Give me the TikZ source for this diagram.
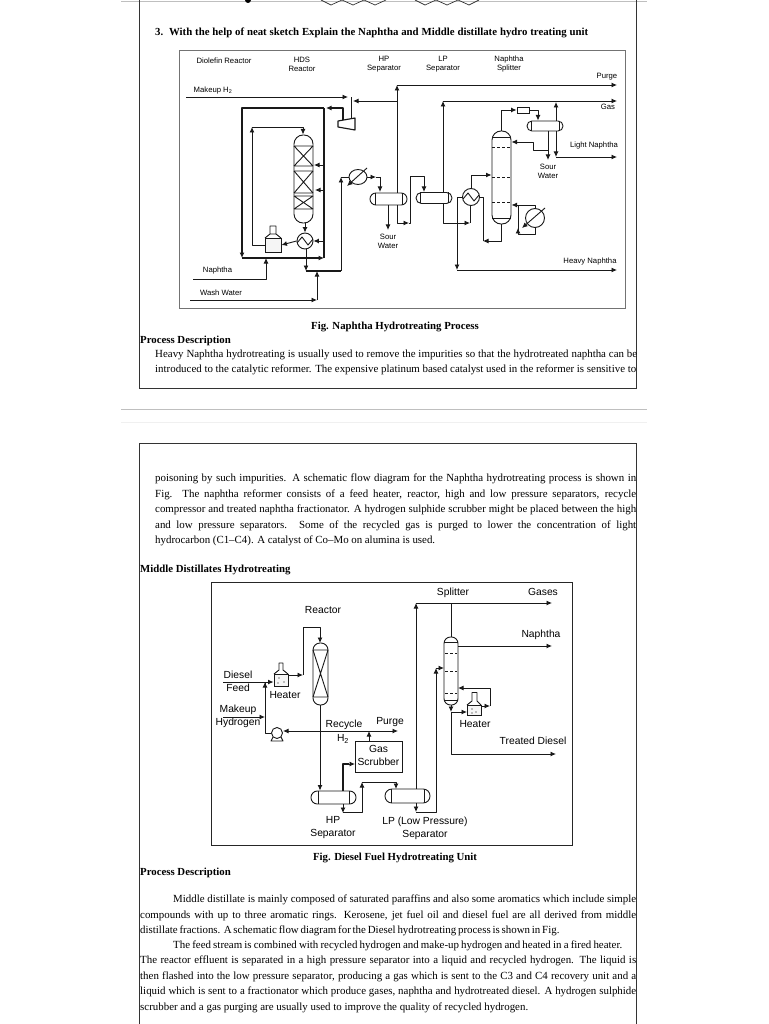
\documentclass[tikz,border=0pt]{standalone}
\usepackage{fontspec}
\setmainfont{Liberation Serif}
\newfontfamily\labfont{Liberation Sans}
\usetikzlibrary{arrows.meta,shapes.geometric}
\newcounter{tlc}
\newcommand{\tline}[4]{\stepcounter{tlc}\node[txtline] (line\arabic{tlc}) at (#1,#2) {\hbox to #3pt{#4}};}
\tikzset{
  txtline/.style={anchor=base west,inner sep=0pt,font=\fontsize{10.9}{12}\selectfont,text=black},
  boldline/.style={anchor=base west,inner sep=0pt,font=\fontsize{10.8}{12}\selectfont\bfseries,text=black},
  lab/.style={inner sep=0pt,align=center,font=\labfont\fontsize{7.7}{9}\selectfont,text=black},
  labb/.style={inner sep=0pt,align=center,font=\labfont\fontsize{10.3}{12.5}\selectfont,text=black},
  pipe/.style={draw=black!90,line width=.9pt,line join=round},
  thickpipe/.style={pipe,line width=1.15pt},
  arr/.style={pipe,-{Latex[length=5.5pt,width=5pt]}},
  tharr/.style={thickpipe,-{Latex[length=5.5pt,width=5pt]}},
  vessel/.style={draw=black!90,line width=.9pt,inner sep=0pt,fill=white},
  tray/.style={draw=black!90,line width=.9pt,dash pattern=on 3pt off 2pt},
  pagerule/.style={draw=black!80,line width=1pt},
  figframe/.style={draw=black!55,line width=1pt,inner sep=0pt},
  fire/.style={draw=black!90,line width=.9pt,inner sep=0pt,fill=black!4}
}
\begin{document}
\begin{tikzpicture}[x=1pt,y=-1pt]
\useasboundingbox (0,0) rectangle (768,1024);
\fill[white] (0,0) rectangle (768,1024);
% page furniture
\draw[black!25,line width=.8pt] (121,1) -- (647,1);
\draw[black!25,line width=.8pt] (121,409) -- (647,409);
\draw[black!6,line width=.8pt] (121,422) -- (647,422);
\draw[pagerule] (139,0) -- (139,388) -- (636,388) -- (636,0);
\draw[pagerule] (139,1024) -- (139,443) -- (636,443) -- (636,1024);
\fill[black] (248,0) circle (3);
\draw[black!80,line width=.7pt] (321,0) -- (331,5) -- (342,0) -- (353,5) -- (364,0) -- (375,5) -- (386,0);
\draw[black!80,line width=.7pt] (415,0) -- (425,5) -- (436,0) -- (447,5) -- (458,0) -- (469,5) -- (479,0);
% page text, top
\node[boldline] (title) at (155,36) {\hbox to 433pt{3.\ \ With the help of neat sketch Explain the Naphtha and Middle distillate hydro treating unit}};
\node[boldline,anchor=base] (capA) at (395,329) {Fig. Naphtha Hydrotreating Process};
\node[boldline] (descA) at (140,343) {Process Description};
\tline{155}{357.5}{482}{Heavy Naphtha hydrotreating is usually used to remove the impurities so that the hydrotreated naphtha can be}
\tline{155}{372}{481}{introduced to the catalytic reformer. The expensive platinum based catalyst used in the reformer is sensitive to}
% page text, middle
\tline{155}{481}{481}{poisoning by such impurities. A schematic flow diagram for the Naphtha hydrotreating process is shown in}
\tline{155}{497}{481}{Fig. The naphtha reformer consists of a feed heater, reactor, high and low pressure separators, recycle}
\tline{155}{512.5}{481}{compressor and treated naphtha fractionator. A hydrogen sulphide scrubber might be placed between the high}
\tline{155}{528}{481}{and low pressure separators. Some of the recycled gas is purged to lower the concentration of light}
\tline{155}{543}{280}{hydrocarbon (C1--C4). A catalyst of Co--Mo on alumina is used.}
\node[boldline] (headB) at (140,572) {Middle Distillates Hydrotreating};
\node[boldline,anchor=base] (capB) at (395,860) {Fig. Diesel Fuel Hydrotreating Unit};
\node[boldline] (descB) at (140,875) {Process Description};
\tline{173}{902}{463}{Middle distillate is mainly composed of saturated paraffins and also some aromatics which include simple}
\tline{140}{918}{496}{compounds with up to three aromatic rings. Kerosene, jet fuel oil and diesel fuel are all derived from middle}
\tline{140}{933}{415}{distillate fractions. A schematic flow diagram for the Diesel hydrotreating process is shown in Fig.}
\tline{173}{948}{449}{The feed stream is combined with recycled hydrogen and make-up hydrogen and heated in a fired heater.}
\tline{140}{963}{496}{The reactor effluent is separated in a high pressure separator into a liquid and recycled hydrogen. The liquid is}
\tline{140}{979}{496}{then flashed into the low pressure separator, producing a gas which is sent to the C3 and C4 recovery unit and a}
\tline{140}{994}{496}{liquid which is sent to a fractionator which produce gases, naphtha and hydrotreated diesel. A hydrogen sulphide}
\tline{140}{1010}{388}{scrubber and a gas purging are usually used to improve the quality of recycled hydrogen.}

% ===== FIGURE 1 =====
\node[figframe,minimum width=446pt,minimum height=257pt] (figA) at (402,179.5) {};
% labels
\node[lab] (tDio) at (224,61) {Diolefin Reactor};
\node[lab] (tHds) at (302,64.5) {HDS\\Reactor};
\node[lab] (tHp) at (384,64.5) {HP\\Separator};
\node[lab] (tLp) at (443,64.5) {LP\\Separator};
\node[lab] (tSpl) at (509,64.5) {Naphtha\\Splitter};
\node[lab] (tPurge) at (607,76.5) {Purge};
\node[lab] (tGas) at (608,107) {Gas};
\node[lab] (tLn) at (594,146) {Light Naphtha};
\node[lab] (tSw2) at (548,171) {Sour\\Water};
\node[lab] (tHn) at (590,262) {Heavy Naphtha};
\node[lab] (tMk) at (213,91) {Makeup H\textsubscript{2}};
\node[lab] (tNa) at (217.5,271) {Naphtha};
\node[lab] (tWw) at (221,292.5) {Wash Water};
\node[lab] (tSw1) at (388,241.5) {Sour\\Water};
% end points
\coordinate (mkS) at (186,97); \coordinate (mkE) at (348,97);
\coordinate (cmpT) at (351,119); \coordinate (cmpJ) at (353,101); \coordinate (cmpM) at (351,97);
\coordinate (hpTop) at (397,193); \coordinate (hpBot) at (397,205);
\coordinate (recJ) at (397,101); \coordinate (purgeJ) at (397,85); \coordinate (purgeE) at (617,85);
\coordinate (gasE) at (617,101); \coordinate (cmpOut) at (343,120);
\coordinate (loopNE) at (324,108); \coordinate (loopSE) at (324,258);
\coordinate (brA) at (324,165); \coordinate (brB) at (324,190); \coordinate (brC) at (324,241);
\coordinate (rA) at (314,165); \coordinate (rB) at (315,190);
\coordinate (naS) at (193,279); \coordinate (naJ) at (266,258);
\coordinate (mixJ) at (317,271); \coordinate (wwS) at (190,300); \coordinate (wwC) at (317,300);
\coordinate (exOut) at (306,249); \coordinate (mixW) at (306,271); \coordinate (clFeed) at (341,271);
\coordinate (clOutS) at (380,177); \coordinate (hpIn) at (380,192);
\coordinate (hpOut) at (388,205); \coordinate (swE) at (388,230);
\coordinate (lpIn) at (424,192); \coordinate (lpTop) at (443,193); \coordinate (lpBot) at (443,203);
\coordinate (gasS) at (443,101); \coordinate (exBIn) at (470,223);
\coordinate (colIn) at (491.5,175); \coordinate (colBot) at (501,224);
\coordinate (hnE) at (617,270); \coordinate (colTop) at (501,131);
\coordinate (drIn) at (538,120.5); \coordinate (drB) at (548,131); \coordinate (swE2) at (548,160);
\coordinate (drB2) at (556,131); \coordinate (drT2) at (556,121); \coordinate (gasJ) at (556,102);
\coordinate (lnJ) at (556,157); \coordinate (lnE) at (617,157);
\coordinate (refS) at (548,150); \coordinate (refE) at (511.5,142);
\coordinate (colRe) at (511.5,205);
\coordinate (rebJ) at (518,205);
% equipment
\node[vessel,minimum width=19pt,minimum height=88pt,rounded corners=9pt] (rxA) at (303.5,179) {};
\foreach \a/\b in {146/166,171/193,196/209}{
  \draw[pipe] (294,\a) -- (313,\a) (294,\b) -- (313,\b) (294,\a) -- (313,\b) (313,\a) -- (294,\b);}
\node[vessel,circle,minimum size=16pt] (exA) at (305,241) {};
\draw[pipe] (297,243) -- (302,237) -- (308,245) -- (313,239);
\node[fire,minimum width=16pt,minimum height=14pt] (htA) at (273,245) {};
\draw[pipe] (265,238) -- (270,234) -- (270,226) -- (276,226) -- (276,234) -- (281,238) (270,234) -- (276,234);
\node[vessel,minimum width=37pt,minimum height=12pt,rounded corners=5.9pt] (hpA) at (388.5,199) {};
\draw[pipe] (375,193) -- (375,205) (402,193) -- (402,205);
\node[vessel,minimum width=36pt,minimum height=11pt,rounded corners=5.4pt] (lpA) at (434,198) {};
\draw[pipe] (420,192.5) -- (420,203.5) (448,192.5) -- (448,203.5);
\node[vessel,ellipse,minimum width=18pt,minimum height=15pt] (clA) at (358,177) {};
\node[vessel,circle,minimum size=17pt] (exB) at (471,197) {};
\draw[pipe] (463,199) -- (468,193) -- (474,201) -- (479,195);
\node[vessel,minimum width=19pt,minimum height=93pt,rounded corners=9pt] (colA) at (501.5,177.5) {};
\draw[tray] (492,147) -- (511,147) (492,177) -- (511,177) (492,202) -- (511,202);
\draw[pipe] (492,137) -- (511,137) (492,218) -- (511,218);
\node[vessel,minimum width=12pt,minimum height=6pt] (cdA) at (523,110) {};
\node[vessel,minimum width=36pt,minimum height=10pt,rounded corners=4.9pt] (drA) at (545,126) {};
\draw[pipe] (531,121) -- (531,131) (559,121) -- (559,131);
\node[vessel,circle,minimum size=19pt] (rbA) at (535,218) {};
\draw[thickpipe] (338,121) -- (355,118) -- (355,130) -- (338,127) -- cycle;
% connectors
\draw[arr] (mkS) -- (mkE);
\draw[pipe] (cmpT) -- (cmpM);
\draw[arr] (recJ) -- (cmpJ);
\draw[arr] (hpTop) -- (purgeJ);
\draw[arr] (purgeJ) -- (purgeE);
\draw[arr] (hpBot) -- (397,223) -- (409,223);
\draw[arr] (409,223) -- (410,223) -- (410,176.7) -- (424,176.7) -- (lpIn);
\draw[tharr] (cmpOut) -- (343,108) -- (326,108);
\draw[thickpipe] (loopNE) -- (242,108) -- (242,250);
\draw[tharr] (242,250) -- (242,258);
\draw[tharr] (242,258) -- (loopSE);
\draw[thickpipe] (loopNE) -- (loopSE);
\draw[arr] (brA) -- (rA);
\draw[arr] (brB) -- (rB);
\draw[arr] (brC) -- (exA.east);
\draw[arr] (naS) -- (266,279) -- (naJ);
\draw[arr] (rxA.south -| exA) -- (exA.north);
\draw[arr] (exA.west) -- (htA.east);
\draw[arr] (htA.west) -- (252,245) -- (252,127);
\draw[arr] (252,127) -- (303,127) -- (303,134.5);
\draw[arr] (exOut) -- (mixW);
\draw[arr] (wwS) -- (wwC);
\draw[arr] (wwC) -- (mixJ);
\draw[thickpipe] (mixW) -- (clFeed);
\draw[arr] (clFeed) -- (341,177);
\draw[pipe] (341,177) -- (clA.west);
\draw[arr] (clA.east) -- (376,177);
\draw[pipe] (376,177) -- (clOutS);
\draw[arr] (clOutS) -- (hpIn);
\draw[arr] (367,168) -- (347,186);
\draw[arr] (hpOut) -- (swE);
\draw[arr] (lpTop) -- (gasS);
\draw[arr] (gasS) -- (gasE);
\draw[arr] (lpBot) -- (443,223) -- (exBIn);
\draw[pipe] (exBIn) -- (470,205.5);
\draw[arr] (exB.north) -- (471,175) -- (colIn);
\draw[pipe] (exB.east) -- (483,197) -- (483,241);
\draw[arr] (colBot) -- (501,241) -- (483,241);
\draw[pipe] (exB.west) -- (457,197) -- (457,262);
\draw[arr] (457,262) -- (457,270);
\draw[arr] (457,270) -- (hnE);
\draw[arr] (colTop) -- (501,110) -- (cdA.west);
\draw[arr] (cdA.east) -- (538,110) -- (drIn);
\draw[arr] (drB) -- (swE2);
\draw[arr] (refS) -- (533,150) -- (533,142) -- (refE);
\draw[arr] (drT2) -- (gasJ);
\draw[arr] (drB2) -- (lnJ);
\draw[arr] (lnJ) -- (lnE);
\draw[arr] (rbA.north) -- (535,205) -- (colRe);
\draw[arr] (rbA.south) -- (535,234) -- (518,234) -- (518,228);
\draw[pipe] (518,234) -- (rebJ);
\draw[arr] (545,208) -- (522,228);

% ===== FIGURE 2 =====
\node[figframe,draw=black!85,minimum width=361pt,minimum height=262.5pt] (figB) at (391.5,713.75) {};
\node[labb] (uRx) at (323,610.5) {Reactor};
\node[labb] (uDf) at (238,681.5) {Diesel\\Feed};
\node[labb] (uHt) at (285,694.5) {Heater};
\node[labb] (uMk) at (238,716.5) {Makeup\\Hydrogen};
\node[labb] (uRc) at (344,725) {Recycle};
\node[labb] (uH2) at (343,739) {H\textsubscript{2}};
\node[labb] (uPu) at (390,722) {Purge};
\node[labb] (uGs) at (378.5,755.5) {Gas\\Scrubber};
\node[labb] (uHp) at (333,827.5) {HP\\Separator};
\node[labb] (uLp) at (425,828.5) {LP (Low Pressure)\\Separator};
\node[labb] (uSp) at (453,592.5) {Splitter};
\node[labb] (uGa) at (543,592) {Gases};
\node[labb] (uNa) at (541,635) {Naphtha};
\node[labb] (uH2t) at (475,723.5) {Heater};
\node[labb] (uTd) at (533,741) {Treated Diesel};
% end points
\coordinate (dfS) at (223,682); \coordinate (dfE) at (273.5,682);
\coordinate (mhS) at (223,717); \coordinate (mhE) at (265,717);
\coordinate (fJ) at (265,682); \coordinate (fB) at (265,733);
\coordinate (pmpR) at (398,731); \coordinate (pmpL) at (283,731);
\coordinate (prS) at (320,705); \coordinate (hpIn2) at (320,790.5);
\coordinate (gsT) at (369,741); \coordinate (gsJ) at (369,731);
\coordinate (hp2T) at (343,791); \coordinate (hp2B) at (343,804);
\coordinate (lp2In) at (396,789); \coordinate (lp2T) at (416,789);
\coordinate (lp2B) at (416,803); \coordinate (topJ) at (416,603);
\coordinate (gaE) at (552,603); \coordinate (colT) at (451,637); \coordinate (colJ) at (451,603);
\coordinate (fdE) at (444,668); \coordinate (naSt) at (458,646); \coordinate (naE) at (552,646);
\coordinate (cbS) at (451,705); \coordinate (tdE) at (556,754); \coordinate (hb) at (451,712);
\coordinate (rbIn) at (458,688);
\coordinate (htBo) at (288,675); \coordinate (htCi) at (467,712); \coordinate (htCo) at (481,706);
\coordinate (gsIn) at (355,764);
% equipment
\node[vessel,minimum width=15pt,minimum height=62pt,rounded corners=7pt] (rxB) at (320.5,674) {};
\draw[pipe] (313,650) -- (328,650) (313,697) -- (328,697) (313,650) -- (328,697) (328,650) -- (313,697);
\node[fire,minimum width=14pt,minimum height=12pt] (htB) at (281,680) {};
\draw[pipe] (274,674) -- (279,670) -- (279,663) -- (283,663) -- (283,670) -- (288,674);
\fill (279,678) circle (.7) (284,682) circle (.7) (278,683) circle (.7);
\node[vessel,circle,minimum size=11pt] (pmpB) at (277,733) {};
\draw[pipe] (273,737) -- (271,741) -- (283,741) -- (281,737);
\node[vessel,minimum width=45pt,minimum height=13pt,rounded corners=6.4pt] (hpB) at (333.5,797.5) {};
\draw[pipe] (318,791) -- (318,804) (349,791) -- (349,804);
\node[vessel,minimum width=45pt,minimum height=14pt,rounded corners=6.9pt] (lpB) at (407.5,796) {};
\draw[pipe] (391,789) -- (391,803) (424,789) -- (424,803);
\node[vessel,line width=1pt,minimum width=47pt,minimum height=31pt,fill=none] (gsB) at (378.5,756.5) {};
\node[vessel,minimum width=14pt,minimum height=68pt,rounded corners=6.5pt] (colB) at (451,671) {};
\draw[pipe] (444,642) -- (458,642) (444,700) -- (458,700);
\draw[tray] (445,653) -- (457,653) (445,671) -- (457,671) (445,693) -- (457,693);
\node[fire,minimum width=14pt,minimum height=10pt] (htC) at (474,710) {};
\draw[pipe] (467,705) -- (472,701) -- (472,692.5) -- (477,692.5) -- (477,701) -- (481,705);
\fill (472,709) circle (.7) (476,712) circle (.7) (472,713) circle (.7);
% connectors
\draw[arr] (dfS) -- (dfE);
\draw[arr] (mhS) -- (mhE);
\draw[pipe] (fJ) -- (fB) -- (pmpB.west);
\draw[arr] (265,690) -- (fJ);
\draw[arr] (gsJ) -- (pmpL);
\draw[arr] (gsJ) -- (pmpR);
\draw[arr] (htBo) -- (303,675);
\draw[arr] (303,675) -- (303,627) -- (320,627) -- (320,643);
\draw[arr] (prS) -- (hpIn2);
\draw[arr] (gsT) -- (gsJ);
\draw[thickpipe] (hp2T) -- (343,764) -- (349,764);
\draw[arr] (349,764) -- (gsIn);
\draw[arr] (hp2B) -- (343,813);
\draw[arr] (343,812) -- (362,812) -- (362,782);
\draw[arr] (362,782) -- (396,782) -- (lp2In);
\draw[arr] (lp2T) -- (topJ);
\draw[arr] (topJ) -- (gaE);
\draw[pipe] (colT) -- (colJ);
\draw[arr] (lp2B) -- (416,812);
\draw[arr] (416,812) -- (436,812) -- (436,668);
\draw[arr] (436,668) -- (fdE);
\draw[arr] (naSt) -- (naE);
\draw[arr] (cbS) -- (hb);
\draw[arr] (hb) -- (htCi);
\draw[arr] (hb) -- (451,754) -- (tdE);
\draw[arr] (htCo) -- (490,706);
\draw[arr] (490,706) -- (490,688) -- (rbIn);
\end{tikzpicture}
\end{document}
